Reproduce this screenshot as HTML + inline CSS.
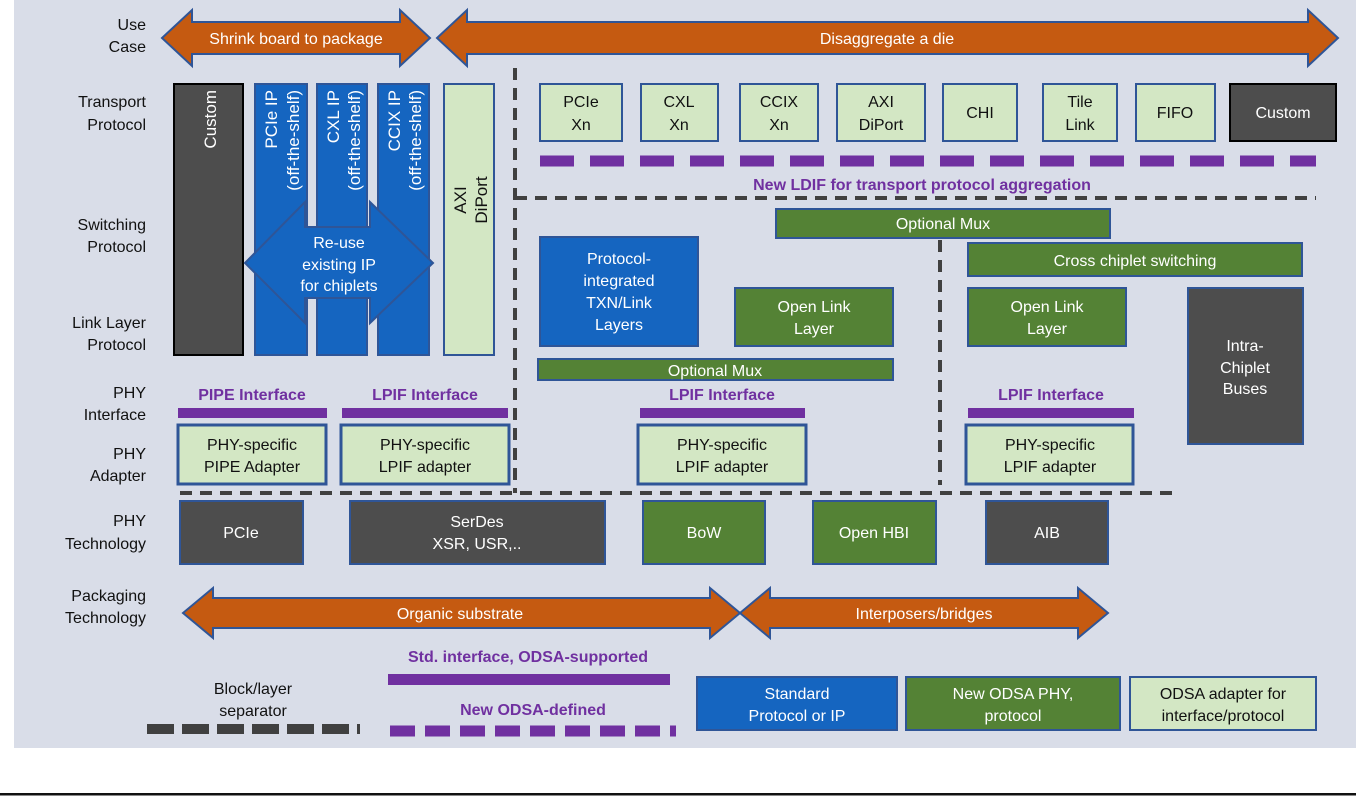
<!DOCTYPE html>
<html><head><meta charset="utf-8"><style>
body{margin:0;background:#fff;width:1356px;height:800px;overflow:hidden}
text{font-family:"Liberation Sans",sans-serif}
</style></head><body>
<svg width="1356" height="800" viewBox="0 0 1356 800" xmlns="http://www.w3.org/2000/svg">
<rect x="0" y="0" width="1356" height="800" fill="#fff"/>
<rect x="14" y="0" width="1342" height="748" fill="#d9dde8"/>
<rect x="0" y="793" width="1356" height="2.5" fill="#111"/>

<g font-size="16" fill="#111" text-anchor="end">
<text x="146" y="30">Use</text><text x="146" y="52">Case</text>
<text x="146" y="107">Transport</text><text x="146" y="130">Protocol</text>
<text x="146" y="230">Switching</text><text x="146" y="252">Protocol</text>
<text x="146" y="328">Link Layer</text><text x="146" y="350">Protocol</text>
<text x="146" y="398">PHY</text><text x="146" y="420">Interface</text>
<text x="146" y="459">PHY</text><text x="146" y="481">Adapter</text>
<text x="146" y="526">PHY</text><text x="146" y="549">Technology</text>
<text x="146" y="601">Packaging</text><text x="146" y="623">Technology</text>
</g>

<g fill="#c55a11" stroke="#2f5597" stroke-width="2">
<polygon points="162,38 192,10 192,22 400,22 400,10 430,38 400,66 400,54 192,54 192,66"/>
<polygon points="437,38 467,10 467,22 1308,22 1308,10 1338,38 1308,66 1308,54 467,54 467,66"/>
<polygon points="183,613 213,588 213,598 710,598 710,588 740,613 710,638 710,628 213,628 213,638"/>
<polygon points="740,613 770,588 770,598 1078,598 1078,588 1108,613 1078,638 1078,628 770,628 770,638"/>
</g>
<g font-size="16" fill="#fff" text-anchor="middle">
<text x="296" y="44">Shrink board to package</text>
<text x="887" y="44">Disaggregate a die</text>
<text x="460" y="619">Organic substrate</text>
<text x="924" y="619">Interposers/bridges</text>
</g>

<g stroke="#404040" stroke-width="4" stroke-dasharray="12,8" fill="none">
<line x1="515" y1="68" x2="515" y2="493"/>
<line x1="515" y1="198" x2="1316" y2="198"/>
<line x1="180" y1="493" x2="1180" y2="493"/>
<line x1="940" y1="240" x2="940" y2="485"/>
</g>

<rect x="174" y="84" width="69" height="271" fill="#4d4d4d" stroke="#000" stroke-width="2"/>
<g fill="#1565c0" stroke="#2f5597" stroke-width="2">
<rect x="255" y="84" width="52" height="271"/>
<rect x="317" y="84" width="50" height="271"/>
<rect x="378" y="84" width="51" height="271"/>
</g>
<rect x="444" y="84" width="50" height="271" fill="#d3e7c4" stroke="#2f5597" stroke-width="2"/>
<g font-size="17" fill="#fff" text-anchor="end">
<text transform="translate(216,90) rotate(-90)">Custom</text>
<text transform="translate(277,90) rotate(-90)">PCIe IP</text>
<text transform="translate(299,90) rotate(-90)">(off-the-shelf)</text>
<text transform="translate(339,90) rotate(-90)">CXL IP</text>
<text transform="translate(360,90) rotate(-90)">(off-the-shelf)</text>
<text transform="translate(400,90) rotate(-90)">CCIX IP</text>
<text transform="translate(421,90) rotate(-90)">(off-the-shelf)</text>
</g>
<g font-size="17" fill="#111" text-anchor="middle">
<text transform="translate(466,200) rotate(-90)">AXI</text>
<text transform="translate(487,200) rotate(-90)">DiPort</text>
</g>
<polygon points="245,263 305,202 305,227 370,227 370,202 433,263 370,323 370,298 305,298 305,323" fill="#1565c0" stroke="#2f5597" stroke-width="2"/>
<g font-size="16" fill="#fff" text-anchor="middle">
<text x="339" y="248">Re-use</text><text x="339" y="270">existing IP</text><text x="339" y="291">for chiplets</text>
</g>

<g fill="#d3e7c4" stroke="#2f5597" stroke-width="2">
<rect x="540" y="84" width="82" height="57"/>
<rect x="641" y="84" width="77" height="57"/>
<rect x="740" y="84" width="78" height="57"/>
<rect x="837" y="84" width="88" height="57"/>
<rect x="943" y="84" width="74" height="57"/>
<rect x="1043" y="84" width="74" height="57"/>
<rect x="1136" y="84" width="79" height="57"/>
</g>
<rect x="1230" y="84" width="106" height="57" fill="#4d4d4d" stroke="#000" stroke-width="2"/>
<g font-size="16" fill="#111" text-anchor="middle">
<text x="581" y="107">PCIe</text><text x="581" y="130">Xn</text>
<text x="679" y="107">CXL</text><text x="679" y="130">Xn</text>
<text x="779" y="107">CCIX</text><text x="779" y="130">Xn</text>
<text x="881" y="107">AXI</text><text x="881" y="130">DiPort</text>
<text x="980" y="118">CHI</text>
<text x="1080" y="107">Tile</text><text x="1080" y="130">Link</text>
<text x="1175" y="118">FIFO</text>
</g>
<text x="1283" y="118" font-size="16" fill="#fff" text-anchor="middle">Custom</text>
<line x1="540" y1="161" x2="1316" y2="161" stroke="#7030a0" stroke-width="11" stroke-dasharray="34,16"/>
<text x="922" y="190" font-size="16" font-weight="bold" fill="#7030a0" text-anchor="middle">New LDIF for transport protocol aggregation</text>

<g fill="#548235" stroke="#2f5597" stroke-width="2">
<rect x="776" y="209" width="334" height="29"/>
<rect x="735" y="288" width="158" height="58"/>
<rect x="538" y="359" width="355" height="21"/>
<rect x="968" y="243" width="334" height="33"/>
<rect x="968" y="288" width="158" height="58"/>
</g>
<rect x="540" y="237" width="158" height="109" fill="#1565c0" stroke="#2f5597" stroke-width="2"/>
<rect x="1188" y="288" width="115" height="156" fill="#4d4d4d" stroke="#2f5597" stroke-width="2"/>
<g font-size="16" fill="#fff" text-anchor="middle">
<text x="943" y="229">Optional Mux</text>
<text x="619" y="264">Protocol-</text><text x="619" y="286">integrated</text><text x="619" y="308">TXN/Link</text><text x="619" y="330">Layers</text>
<text x="814" y="312">Open Link</text><text x="814" y="334">Layer</text>
<text x="715" y="376">Optional Mux</text>
<text x="1135" y="266">Cross chiplet switching</text>
<text x="1047" y="312">Open Link</text><text x="1047" y="334">Layer</text>
<text x="1245" y="351">Intra-</text><text x="1245" y="373">Chiplet</text><text x="1245" y="394">Buses</text>
</g>

<g font-size="16" font-weight="bold" fill="#7030a0" text-anchor="middle">
<text x="252" y="400">PIPE Interface</text>
<text x="425" y="400">LPIF Interface</text>
<text x="722" y="400">LPIF Interface</text>
<text x="1051" y="400">LPIF Interface</text>
</g>
<g fill="#7030a0">
<rect x="178" y="408" width="149" height="10"/>
<rect x="342" y="408" width="166" height="10"/>
<rect x="640" y="408" width="165" height="10"/>
<rect x="968" y="408" width="166" height="10"/>
</g>
<g fill="#d3e7c4" stroke="#2f5597" stroke-width="3">
<rect x="178" y="425" width="148" height="59"/>
<rect x="341" y="425" width="168" height="59"/>
<rect x="638" y="425" width="168" height="59"/>
<rect x="966" y="425" width="167" height="59"/>
</g>
<g font-size="16" fill="#111" text-anchor="middle">
<text x="252" y="450">PHY-specific</text><text x="252" y="472">PIPE Adapter</text>
<text x="425" y="450">PHY-specific</text><text x="425" y="472">LPIF adapter</text>
<text x="722" y="450">PHY-specific</text><text x="722" y="472">LPIF adapter</text>
<text x="1050" y="450">PHY-specific</text><text x="1050" y="472">LPIF adapter</text>
</g>

<g stroke="#2f5597" stroke-width="2">
<rect x="180" y="501" width="123" height="63" fill="#4d4d4d"/>
<rect x="350" y="501" width="255" height="63" fill="#4d4d4d"/>
<rect x="643" y="501" width="122" height="63" fill="#548235"/>
<rect x="813" y="501" width="123" height="63" fill="#548235"/>
<rect x="986" y="501" width="122" height="63" fill="#4d4d4d"/>
</g>
<g font-size="16" fill="#fff" text-anchor="middle">
<text x="241" y="538">PCIe</text>
<text x="477" y="527">SerDes</text><text x="477" y="549">XSR, USR,..</text>
<text x="704" y="538">BoW</text>
<text x="874" y="538">Open HBI</text>
<text x="1047" y="538">AIB</text>
</g>

<text x="528" y="662" font-size="16" font-weight="bold" fill="#7030a0" text-anchor="middle">Std. interface, ODSA-supported</text>
<rect x="388" y="674" width="282" height="11" fill="#7030a0"/>
<text x="533" y="715" font-size="16" font-weight="bold" fill="#7030a0" text-anchor="middle">New ODSA-defined</text>
<line x1="390" y1="731" x2="676" y2="731" stroke="#7030a0" stroke-width="11" stroke-dasharray="25,10"/>
<g font-size="16" fill="#111" text-anchor="middle">
<text x="253" y="694">Block/layer</text><text x="253" y="716">separator</text>
</g>
<line x1="147" y1="729" x2="360" y2="729" stroke="#404040" stroke-width="10" stroke-dasharray="27,8"/>
<rect x="697" y="677" width="200" height="53" fill="#1565c0" stroke="#2f5597" stroke-width="2"/>
<rect x="906" y="677" width="214" height="53" fill="#548235" stroke="#2f5597" stroke-width="2"/>
<rect x="1130" y="677" width="186" height="53" fill="#d3e7c4" stroke="#2f5597" stroke-width="2"/>
<g font-size="16" text-anchor="middle">
<text x="797" y="699" fill="#fff">Standard</text><text x="797" y="721" fill="#fff">Protocol or IP</text>
<text x="1013" y="699" fill="#fff">New ODSA PHY,</text><text x="1013" y="721" fill="#fff">protocol</text>
<text x="1223" y="699" fill="#111">ODSA adapter for</text><text x="1223" y="721" fill="#111">interface/protocol</text>
</g>
</svg>
</body></html>
